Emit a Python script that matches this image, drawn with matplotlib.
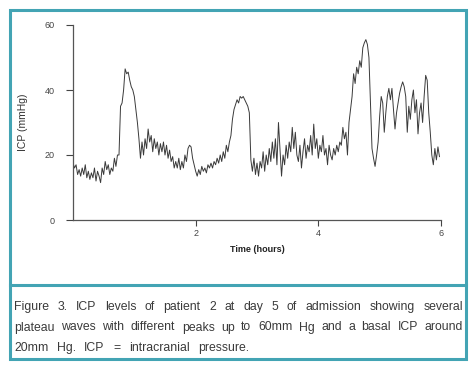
import matplotlib
matplotlib.use("Agg")
from matplotlib import pyplot as plt
from matplotlib.patches import Rectangle
from matplotlib.lines import Line2D
import numpy as np

# ICP trace (mmHg), one reading every 0.025 h
icp = [17.5, 16, 17, 14, 15.5, 13.5, 16, 14, 17, 13,
       15, 12.5, 14.5, 13, 16, 12, 15, 13.5, 11.5, 16,
       14, 18, 15.5, 17, 14, 16, 15, 19, 16.5, 20,
       20, 35, 36, 40, 46.5, 45, 45.5, 43, 41, 40,
       38, 34, 30, 25, 19, 24, 20, 25, 22, 28,
       24, 26, 21, 25, 22, 24, 20, 23.5, 21, 24,
       20, 23, 19, 21.5, 18, 19.5, 16, 18, 16, 19,
       15.5, 18, 16, 20, 18, 22, 23, 22.5, 19, 17,
       15, 13.5, 15.5, 14, 16.5, 15, 16, 14.5, 17, 16,
       17.5, 16, 18, 17, 19, 17.5, 20, 18, 21, 19,
       23, 21, 24, 26, 31, 34, 35.5, 37, 36, 38,
       37.5, 38, 37, 36, 35, 33, 18.5, 15, 19, 14,
       17.5, 13.5, 18, 16, 21, 15, 20, 17, 22, 18,
       24, 19, 25, 17, 30, 22, 13.5, 20, 17, 23,
       19, 24, 21, 28.5, 22, 27, 20, 18, 23, 16,
       21, 25, 19, 23, 21, 26, 20, 29.5, 22, 25,
       19, 23, 21, 26, 20, 22, 17, 23, 20, 18.5,
       22, 20, 23, 21, 24, 23, 28.5, 25, 27, 20,
       30, 34, 38, 45, 42, 47, 45, 49, 47, 53,
       54.5, 55.5, 54, 50, 36, 22, 19, 16.5, 20, 24,
       32, 38, 36, 27, 33, 38, 40.5, 37, 40.5, 34,
       28, 33, 36, 39, 41, 42.5, 41, 38, 27, 35,
       31, 37, 40, 33, 37, 26.5, 33, 36, 30, 38,
       44.5, 43, 33, 27, 20, 17, 22, 18.5, 22.5, 19.5]
hours = np.arange(len(icp)) * 0.025

y_ticks = [0, 20, 40, 60]
x_ticks = [2, 4, 6]

caption = ["Figure 3. ICP levels of patient 2 at day 5 of admission showing several",
           "plateau waves with different peaks up to 60mm Hg and a basal ICP around",
           "20mm Hg. ICP = intracranial pressure."]

W, H = 474, 366
teal = "#43a4b4"
plt.rcParams["font.family"] = ["Liberation Sans", "DejaVu Sans"]

fig = plt.figure(figsize=(W / 100, H / 100), dpi=100)

def fx(px):
    return px / W

def fy(py):
    return 1 - py / H

# frame and divider
fig.patches.append(Rectangle((fx(9.5), fy(358.5)), fx(466) - fx(9.5), fy(9.5) - fy(358.5),
                             transform=fig.transFigure, fill=False, edgecolor=teal, lw=2.2))
fig.lines.append(Line2D([fx(9.5), fx(466)], [fy(285), fy(285)], transform=fig.transFigure,
                        color=teal, lw=2.2))

ax = fig.add_axes([fx(73), fy(220), fx(441) - fx(73), fy(25) - fy(220)])
ax.plot(hours, icp, color="#3a3a3a", lw=0.7)
ax.set_xlim(0, 6)
ax.set_ylim(0, 60)
ax.set_xticks(x_ticks)
ax.set_yticks(y_ticks)
for s in ["top", "right"]:
    ax.spines[s].set_visible(False)
for s in ["left", "bottom"]:
    ax.spines[s].set_color("#555555")
    ax.spines[s].set_linewidth(0.9)
ax.tick_params(axis="y", length=5, width=0.8, pad=8, labelsize=6.5, colors="#444444")
ax.tick_params(axis="x", length=4.5, width=0.8, pad=2, labelsize=6.5, colors="#444444")
ax.set_xlabel("Time (hours)", fontsize=6.5, fontweight="bold", color="#222222", labelpad=5)
ax.set_ylabel("ICP (mmHg)", fontsize=7.5, color="#333333", labelpad=12)

# caption, justified; wide word spacing on the last line too
renderer = fig.canvas.get_renderer()
left = 14
line_ends = [463, 463, 249]
baselines = [310, 330.5, 351]
fsize = 8.8
for i, line in enumerate(caption):
    words = line.split(" ")
    texts = [fig.text(0, 0, w, fontsize=fsize, color="#3a3a3a", va="baseline") for w in words]
    widths = [t.get_window_extent(renderer).width for t in texts]
    gap = (line_ends[i] - left - sum(widths)) / (len(words) - 1)
    x = left
    for t, w in zip(texts, widths):
        t.set_position((fx(x), fy(baselines[i])))
        x += w + gap

fig.savefig("out.png", dpi=100)
